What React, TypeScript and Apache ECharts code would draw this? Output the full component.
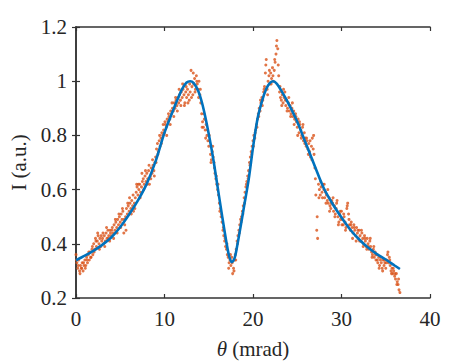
import React, { useEffect, useRef } from "react";
import * as echarts from "echarts";

// Fitted curve (blue)
const thetaFit = [0, 1, 2, 3, 4, 5, 6, 7, 8, 9, 10, 11, 11.5, 12, 12.5, 12.9, 13.3, 13.8, 14.2, 14.6, 15.0, 15.5, 16.0, 16.5, 17.0, 17.3, 17.6, 17.9, 18.2, 18.6, 19.0, 19.5, 20.0, 20.5, 21.0, 21.5, 21.9, 22.3, 22.7, 23.2, 24, 25, 26, 27, 28, 29, 30, 31, 32, 33, 34, 35, 36, 36.6];
const intensityFit = [0.339, 0.356, 0.375, 0.397, 0.424, 0.462, 0.508, 0.56, 0.622, 0.705, 0.81, 0.895, 0.935, 0.972, 0.995, 1.0, 0.993, 0.965, 0.925, 0.87, 0.805, 0.715, 0.61, 0.505, 0.405, 0.355, 0.332, 0.345, 0.39, 0.464, 0.54, 0.635, 0.755, 0.86, 0.925, 0.972, 0.993, 1.0, 0.99, 0.965, 0.918, 0.85, 0.768, 0.685, 0.605, 0.547, 0.497, 0.452, 0.416, 0.386, 0.362, 0.342, 0.32, 0.307];

// Measured points (orange), theta in mrad — first pass
const thetaObs = [
  0.0, 0.1, 0.2, 0.3, 0.4, 0.5, 0.6, 0.7, 0.8, 0.9,
  1.0, 1.1, 1.2, 1.3, 1.4, 1.5, 1.6, 1.7, 1.8, 1.9,
  2.0, 2.1, 2.2, 2.3, 2.4, 2.5, 2.6, 2.7, 2.8, 2.9,
  3.0, 3.1, 3.2, 3.3, 3.4, 3.5, 3.6, 3.7, 3.8, 3.9,
  4.0, 4.1, 4.2, 4.3, 4.4, 4.5, 4.6, 4.7, 4.8, 4.9,
  5.0, 5.1, 5.2, 5.3, 5.4, 5.5, 5.6, 5.7, 5.8, 5.9,
  6.0, 6.1, 6.2, 6.3, 6.4, 6.5, 6.6, 6.7, 6.8, 6.9,
  7.0, 7.1, 7.2, 7.3, 7.4, 7.5, 7.6, 7.7, 7.8, 7.9,
  8.0, 8.1, 8.2, 8.3, 8.4, 8.5, 8.6, 8.7, 8.8, 8.9,
  9.0, 9.1, 9.2, 9.3, 9.4, 9.5, 9.6, 9.7, 9.8, 9.9,
  10.0, 10.1, 10.2, 10.3, 10.4, 10.5, 10.6, 10.7, 10.8, 10.9,
  11.0, 11.1, 11.2, 11.3, 11.4, 11.5, 11.6, 11.7, 11.8, 11.9,
  12.0, 12.1, 12.2, 12.3, 12.4, 12.5, 12.6, 12.7, 12.8, 12.9,
  13.0, 13.1, 13.2, 13.3, 13.4, 13.5, 13.6, 13.7, 13.8, 13.9,
  14.0, 14.1, 14.2, 14.3, 14.4, 14.5, 14.6, 14.7, 14.8, 14.9,
  15.0, 15.1, 15.2, 15.3, 15.4, 15.5, 15.6, 15.7, 15.8, 15.9,
  16.0, 16.1, 16.2, 16.3, 16.4, 16.5, 16.6, 16.7, 16.8, 16.9,
  17.0, 17.1, 17.2, 17.3, 17.4, 17.5, 17.6, 17.7, 17.8, 17.9,
  18.0, 18.1, 18.2, 18.3, 18.4, 18.5, 18.6, 18.7, 18.8, 18.9,
  19.0, 19.1, 19.2, 19.3, 19.4, 19.5, 19.6, 19.7, 19.8, 19.9,
  20.0, 20.1, 20.2, 20.3, 20.4, 20.5, 20.6, 20.7, 20.8, 20.9,
  21.0, 21.1, 21.2, 21.3, 21.4, 21.5, 21.6, 21.7, 21.8, 21.9,
  22.0, 22.1, 22.2, 22.3, 22.4, 22.5, 22.6, 22.7, 22.8, 22.9,
  23.0, 23.1, 23.2, 23.3, 23.4, 23.5, 23.6, 23.7, 23.8, 23.9,
  24.0, 24.1, 24.2, 24.3, 24.4, 24.5, 24.6, 24.7, 24.8, 24.9,
  25.0, 25.1, 25.2, 25.3, 25.4, 25.5, 25.6, 25.7, 25.8, 25.9,
  26.0, 26.1, 26.2, 26.3, 26.4, 26.5, 26.6, 26.7, 26.8, 26.9,
  27.0, 27.1, 27.2, 27.3, 27.4, 27.5, 27.6, 27.7, 27.8, 27.9,
  28.0, 28.1, 28.2, 28.3, 28.4, 28.5, 28.6, 28.7, 28.8, 28.9,
  29.0, 29.1, 29.2, 29.3, 29.4, 29.5, 29.6, 29.7, 29.8, 29.9,
  30.0, 30.1, 30.2, 30.3, 30.4, 30.5, 30.6, 30.7, 30.8, 30.9,
  31.0, 31.1, 31.2, 31.3, 31.4, 31.5, 31.6, 31.7, 31.8, 31.9,
  32.0, 32.1, 32.2, 32.3, 32.4, 32.5, 32.6, 32.7, 32.8, 32.9,
  33.0, 33.1, 33.2, 33.3, 33.4, 33.5, 33.6, 33.7, 33.8, 33.9,
  34.0, 34.1, 34.2, 34.3, 34.4, 34.5, 34.6, 34.7, 34.8, 34.9,
  35.0, 35.1, 35.2, 35.3, 35.4, 35.5, 35.6, 35.7, 35.8, 35.9,
  36.0, 36.1, 36.2, 36.3, 36.4, 36.5, 36.6,
];
const intensityObs = [
  0.36, 0.33, 0.31, 0.34, 0.30, 0.32, 0.31, 0.33, 0.30, 0.32,
  0.34, 0.32, 0.35, 0.33, 0.36, 0.34, 0.37, 0.35, 0.38, 0.36,
  0.40, 0.38, 0.42, 0.39, 0.41, 0.43, 0.40, 0.42, 0.39, 0.41,
  0.42, 0.40, 0.43, 0.41, 0.44, 0.42, 0.45, 0.43, 0.41, 0.44,
  0.43, 0.46, 0.44, 0.47, 0.45, 0.48, 0.46, 0.49, 0.47, 0.50,
  0.48, 0.51, 0.49, 0.52, 0.44, 0.47, 0.50, 0.53, 0.51, 0.54,
  0.52, 0.55, 0.53, 0.56, 0.54, 0.52, 0.55, 0.57, 0.59, 0.61,
  0.58, 0.60, 0.62, 0.59, 0.61, 0.63, 0.64, 0.62, 0.65, 0.63,
  0.66, 0.64, 0.67, 0.62, 0.65, 0.68, 0.66, 0.69, 0.67, 0.70,
  0.72, 0.75, 0.77, 0.74, 0.78, 0.76, 0.79, 0.81, 0.80, 0.82,
  0.81, 0.84, 0.83, 0.86, 0.85, 0.87, 0.86, 0.89, 0.88, 0.90,
  0.89, 0.92, 0.90, 0.93, 0.91, 0.94, 0.92, 0.95, 0.93, 0.96,
  0.94, 0.97, 0.95, 0.92, 0.96, 0.94, 0.97, 0.95, 0.93, 0.96,
  1.04, 0.98, 0.95, 0.99, 1.01, 0.97, 1.02, 0.99, 0.97, 1.00,
  0.95, 0.92, 0.88, 0.85, 0.83, 0.86, 0.82, 0.84, 0.80, 0.78,
  0.76, 0.78, 0.73, 0.71, 0.74, 0.72, 0.70, 0.66, 0.64, 0.62,
  0.60, 0.58, 0.55, 0.53, 0.50, 0.48, 0.45, 0.43, 0.41, 0.39,
  0.38, 0.36, 0.35, 0.33, 0.34, 0.32, 0.35, 0.29, 0.31, 0.34,
  0.36, 0.38, 0.41, 0.43, 0.45, 0.47, 0.49, 0.50, 0.52, 0.54,
  0.57, 0.59, 0.61, 0.63, 0.65, 0.67, 0.70, 0.72, 0.74, 0.76,
  0.78, 0.80, 0.79, 0.82, 0.84, 0.86, 0.88, 0.90, 0.89, 0.92,
  0.94, 0.93, 0.96, 0.98, 1.03, 1.08, 0.97, 1.00, 1.02, 0.99,
  1.03, 1.01, 1.05, 1.00, 1.04, 1.07, 1.10, 1.15, 1.12, 1.02,
  0.96, 0.94, 0.93, 0.95, 0.92, 0.94, 0.96, 0.91, 0.93, 0.90,
  0.92, 0.89, 0.91, 0.88, 0.90, 0.87, 0.89, 0.86, 0.88, 0.85,
  0.83, 0.86, 0.81, 0.84, 0.82, 0.80, 0.83, 0.78, 0.81, 0.79,
  0.76, 0.78, 0.75, 0.77, 0.74, 0.72, 0.76, 0.79, 0.75, 0.73,
  0.68, 0.58, 0.45, 0.42, 0.62, 0.60, 0.58, 0.61, 0.59, 0.62,
  0.60, 0.57, 0.59, 0.58, 0.56, 0.55, 0.57, 0.54, 0.53, 0.56,
  0.55, 0.52, 0.54, 0.51, 0.53, 0.56, 0.50, 0.48, 0.51, 0.49,
  0.52, 0.49, 0.47, 0.50, 0.48, 0.46, 0.53, 0.55, 0.51, 0.47,
  0.45, 0.48, 0.46, 0.44, 0.47, 0.45, 0.43, 0.46, 0.44, 0.42,
  0.45, 0.43, 0.41, 0.44, 0.42, 0.40, 0.43, 0.41, 0.39, 0.42,
  0.40, 0.38, 0.41, 0.39, 0.37, 0.36, 0.38, 0.35, 0.37, 0.34,
  0.36, 0.33, 0.35, 0.32, 0.34, 0.33, 0.31, 0.34, 0.32, 0.33,
  0.31, 0.34, 0.36, 0.33, 0.35, 0.32, 0.30, 0.31, 0.29, 0.30,
  0.28, 0.27, 0.29, 0.26, 0.25, 0.23, 0.22,
];

// Measured points (orange) — interleaved second pass
const thetaObsB = [
  0.05, 0.25, 0.45, 0.65, 0.85, 1.05, 1.25, 1.45, 1.65, 1.85,
  2.05, 2.25, 2.45, 2.65, 2.85, 3.05, 3.25, 3.45, 3.65, 3.85,
  4.05, 4.25, 4.45, 4.65, 4.85, 5.05, 5.25, 5.45, 5.65, 5.85,
  6.05, 6.25, 6.45, 6.65, 6.85, 7.05, 7.25, 7.45, 7.65, 7.85,
  8.05, 8.25, 8.45, 8.65, 8.85, 9.05, 9.25, 9.45, 9.65, 9.85,
  10.05, 10.25, 10.45, 10.65, 10.85, 11.05, 11.25, 11.45, 11.65, 11.85,
  12.05, 12.25, 12.45, 12.65, 12.85, 13.05, 13.25, 13.45, 13.65, 13.85,
  14.05, 14.25, 14.45, 14.65, 14.85, 15.05, 15.25, 15.45, 15.65, 15.85,
  16.05, 16.25, 16.45, 16.65, 16.85, 17.05, 17.25, 17.45, 17.65, 17.85,
  18.05, 18.25, 18.45, 18.65, 18.85, 19.05, 19.25, 19.45, 19.65, 19.85,
  20.05, 20.25, 20.45, 20.65, 20.85, 21.05, 21.25, 21.45, 21.65, 21.85,
  22.05, 22.25, 22.45, 22.65, 22.85, 23.05, 23.25, 23.45, 23.65, 23.85,
  24.05, 24.25, 24.45, 24.65, 24.85, 25.05, 25.25, 25.45, 25.65, 25.85,
  26.05, 26.25, 26.45, 26.65, 26.85, 27.05, 27.25, 27.45, 27.65, 27.85,
  28.05, 28.25, 28.45, 28.65, 28.85, 29.05, 29.25, 29.45, 29.65, 29.85,
  30.05, 30.25, 30.45, 30.65, 30.85, 31.05, 31.25, 31.45, 31.65, 31.85,
  32.05, 32.25, 32.45, 32.65, 32.85, 33.05, 33.25, 33.45, 33.65, 33.85,
  34.05, 34.25, 34.45, 34.65, 34.85, 35.05, 35.25, 35.45, 35.65, 35.85,
  36.05, 36.25, 36.45,
];
const intensityObsB = [
  0.34, 0.32, 0.29, 0.31, 0.33, 0.31, 0.34, 0.37, 0.35, 0.39,
  0.37, 0.41, 0.44, 0.38, 0.43, 0.44, 0.39, 0.46, 0.42, 0.45,
  0.45, 0.42, 0.49, 0.44, 0.51, 0.46, 0.53, 0.49, 0.45, 0.55,
  0.57, 0.51, 0.58, 0.53, 0.62, 0.62, 0.57, 0.66, 0.60, 0.67,
  0.62, 0.69, 0.64, 0.71, 0.65, 0.70, 0.73, 0.80, 0.77, 0.84,
  0.85, 0.80, 0.88, 0.84, 0.92, 0.87, 0.94, 0.89, 0.97, 0.91,
  0.99, 0.91, 0.98, 0.92, 0.99, 0.94, 1.03, 0.96, 1.00, 0.94,
  0.97, 0.83, 0.88, 0.79, 0.82, 0.80, 0.70, 0.76, 0.68, 0.65,
  0.62, 0.52, 0.51, 0.46, 0.42, 0.40, 0.31, 0.36, 0.33, 0.30,
  0.34, 0.40, 0.44, 0.48, 0.51, 0.55, 0.62, 0.64, 0.69, 0.73,
  0.76, 0.81, 0.83, 0.87, 0.93, 0.91, 0.97, 1.06, 0.95, 1.04,
  0.99, 1.02, 1.08, 1.13, 1.06, 0.98, 0.91, 0.97, 0.93, 0.89,
  0.94, 0.87, 0.92, 0.84, 0.87, 0.80, 0.85, 0.79, 0.84, 0.77,
  0.79, 0.73, 0.78, 0.71, 0.80, 0.64, 0.50, 0.57, 0.63, 0.57,
  0.62, 0.55, 0.60, 0.52, 0.55, 0.57, 0.50, 0.55, 0.47, 0.52,
  0.47, 0.51, 0.45, 0.54, 0.49, 0.47, 0.42, 0.46, 0.41, 0.45,
  0.41, 0.45, 0.39, 0.42, 0.38, 0.39, 0.42, 0.35, 0.39, 0.36,
  0.34, 0.31, 0.35, 0.30, 0.34, 0.33, 0.37, 0.34, 0.29, 0.31,
  0.29, 0.25, 0.27,
];

const xTicks = [0, 10, 20, 30, 40];
const yTicks = [0.2, 0.4, 0.6, 0.8, 1.0, 1.2];

const FONT = "Liberation Serif";
const AXIS_COLOR = "#333333";
const TEXT_COLOR = "#262626";

export default function App() {
  const ref = useRef<HTMLDivElement>(null);

  useEffect(() => {
    if (!ref.current) return;
    const chart = echarts.init(ref.current, undefined, { renderer: "svg" });

    const lineStyle = { color: AXIS_COLOR, width: 1.5 };
    const tick = { show: true, inside: true, length: 4, lineStyle: { color: AXIS_COLOR, width: 1.2 } };
    const label = { fontFamily: FONT, fontSize: 21, color: TEXT_COLOR };

    const xMin = xTicks[0];
    const xMax = xTicks[xTicks.length - 1];
    const xInt = xTicks[1] - xTicks[0];
    const yMin = yTicks[0];
    const yMax = yTicks[yTicks.length - 1];
    const yInt = 0.2;

    const obs = thetaObs.map((t, i) => [t, intensityObs[i]]).concat(
      thetaObsB.map((t, i) => [t, intensityObsB[i]])
    );

    chart.setOption({
      animation: false,
      backgroundColor: "#ffffff",
      grid: { left: 73, right: 44, top: 27, bottom: 66 },
      xAxis: [
        {
          type: "value",
          position: "bottom",
          min: xMin,
          max: xMax,
          interval: xInt,
          axisLine: { show: true, lineStyle },
          axisTick: tick,
          splitLine: { show: false },
          axisLabel: { ...label, margin: 10 },
          name: "{i|θ} (mrad)",
          nameLocation: "middle",
          nameGap: 40,
          nameTextStyle: {
            ...label,
            rich: { i: { fontFamily: FONT, fontSize: 21, fontStyle: "italic", color: TEXT_COLOR } },
          },
        },
        {
          type: "value",
          position: "top",
          min: xMin,
          max: xMax,
          interval: xInt,
          axisLine: { show: true, lineStyle },
          axisTick: tick,
          splitLine: { show: false },
          axisLabel: { show: false },
        },
      ],
      yAxis: [
        {
          type: "value",
          position: "left",
          min: yMin,
          max: yMax,
          interval: yInt,
          axisLine: { show: true, lineStyle },
          axisTick: tick,
          splitLine: { show: false },
          axisLabel: { ...label, margin: 9 },
          name: "I (a.u.)",
          nameLocation: "middle",
          nameGap: 47,
          nameTextStyle: label,
        },
        {
          type: "value",
          position: "right",
          min: yMin,
          max: yMax,
          interval: yInt,
          axisLine: { show: true, lineStyle },
          axisTick: tick,
          splitLine: { show: false },
          axisLabel: { show: false },
        },
      ],
      series: [
        {
          type: "scatter",
          data: obs,
          symbol: "circle",
          symbolSize: 3,
          itemStyle: { color: "#D95319" },
          z: 2,
        },
        {
          type: "line",
          data: thetaFit.map((t, i) => [t, intensityFit[i]]),
          showSymbol: false,
          smooth: 0.3,
          lineStyle: { color: "#0072BD", width: 2.6 },
          z: 3,
        },
      ],
    });

    return () => chart.dispose();
  }, []);

  return (
    <div
      ref={ref}
      style={{ position: "fixed", left: 0, top: 0, width: 474, height: 364 }}
    />
  );
}
